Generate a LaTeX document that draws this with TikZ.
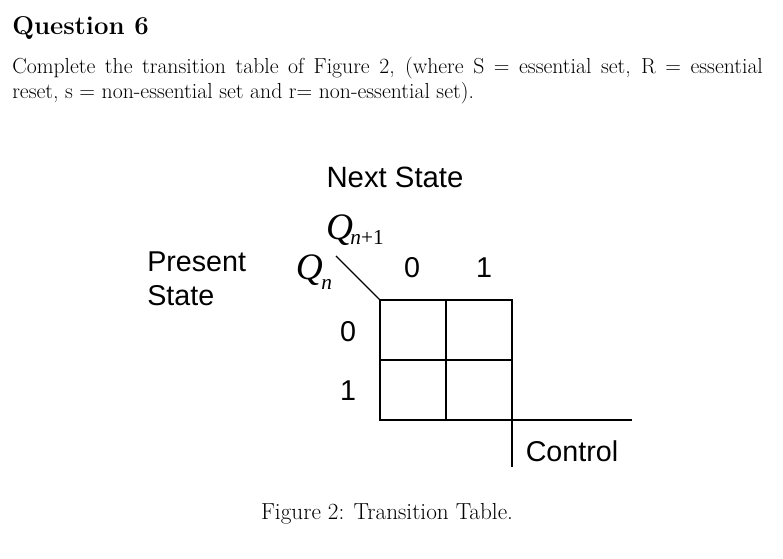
\documentclass[tikz,border=0pt]{standalone}
\usepackage{fontspec}
\newfontfamily\arial{Liberation Sans}
\newfontfamily\tms{Liberation Serif}
\begin{document}
\begin{tikzpicture}[x=0.75pt,y=-0.75pt,
  sf/.style={font=\arial\fontsize{21.5}{24}\selectfont, inner sep=0pt},
  ln/.style={line width=0.9pt}]
\useasboundingbox (0,0) rectangle (783,559);
\node[anchor=base west, inner sep=0pt, font=\bfseries\fontsize{19.3}{22}\selectfont] (title) at (12,35) {Question 6};
\node[anchor=north west, inner sep=0pt, text width=563pt, align=justify, font=\fontsize{16.3}{18.75}\selectfont] (para) at (12,57) {Complete the transition table of Figure 2, (where S = essential set, R = essential\linebreak reset, s = non-essential set and r= non-essential set).};
\node[sf, font=\arial\fontsize{22}{24}\selectfont] (ns) at (395,177) {Next State};
\node[sf, align=left, anchor=west, font=\arial\fontsize{21.5}{25.5}\selectfont] (ps) at (147,279) {Present\\State};
\node[inner sep=0pt, font=\tms\itshape\fontsize{28}{30}\selectfont] (qn1) at (355,230) {Q\kern-2pt\raisebox{-4pt}{\fontsize{16}{18}\selectfont n\upshape+1}};
\node[inner sep=0pt, font=\tms\itshape\fontsize{28}{30}\selectfont] (qn) at (314,272) {Q\kern-1pt\raisebox{-7pt}{\fontsize{16}{18}\selectfont n}};
\coordinate (d1) at (336,256);
\coordinate (a) at (380,300);
\coordinate (b) at (446,300);
\coordinate (c) at (512,300);
\coordinate (e) at (380,360);
\coordinate (f) at (512,360);
\coordinate (g) at (380,420);
\coordinate (h) at (446,420);
\coordinate (i) at (512,420);
\coordinate (j) at (632,420);
\coordinate (k) at (512,467);
\draw[ln] (d1) -- (a);
\draw[ln] (a) -- (c) -- (k);
\draw[ln] (a) -- (g) -- (j);
\draw[ln] (e) -- (f);
\draw[ln] (b) -- (h);
\node[sf] (c0) at (412,268) {0};
\node[sf] (c1) at (484,268) {1};
\node[sf] (r0) at (348,332) {0};
\node[sf] (r1) at (348,391) {1};
\node[sf] (ctl) at (572,451) {Control};
\node[inner sep=0pt, font=\fontsize{17.4}{19}\selectfont] (cap) at (387,514) {Figure 2: Transition Table.};
\end{tikzpicture}
\end{document}
